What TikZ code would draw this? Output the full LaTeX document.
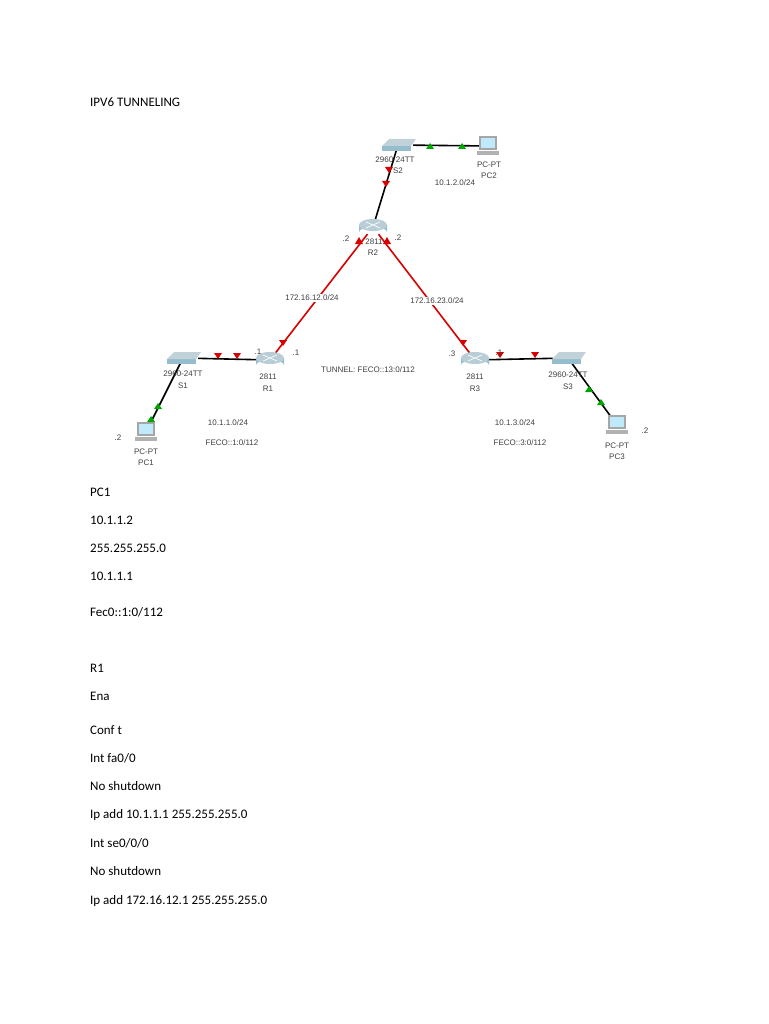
\documentclass[tikz,border=0pt]{standalone}
\usepackage{fontspec}
\setmainfont{Carlito}
\newfontfamily\diag{Liberation Sans}
\begin{document}
\begin{tikzpicture}[x=1pt,y=-1pt,
  body/.style={anchor=west,font=\fontsize{13}{15}\selectfont,inner sep=0},
  lbl/.style={font=\diag\fontsize{8}{9}\selectfont,text=black!75,inner sep=0},
  router/.style={draw=none,minimum width=26,minimum height=14,inner sep=0},
  switchn/.style={inner sep=0,minimum width=30,minimum height=10},
  pcn/.style={inner sep=0,minimum width=18,minimum height=18},
  serial/.style={red!85!black,line width=1.6},
  eth/.style={black,line width=1.6},
  rmark/.style={fill=red!85!black,draw=none},
  gmark/.style={fill=green!65!black,draw=none}]
\useasboundingbox (0,0) rectangle (768,1024);
\fill[white] (0,0) rectangle (768,1024);
\node[body] (title) at (90,102) {IPV6 TUNNELING};
% devices (shapes)
\newcommand{\routerpic}[2]{%
  \fill[cyan!45!gray!70] (#1-14,#2-2) -- (#1-14,#2+5) arc[start angle=180,end angle=360,x radius=14,y radius=5] -- (#1+14,#2-2) -- cycle;
  \fill[cyan!30!gray!50] (#1,#2-2) ellipse[x radius=14,y radius=6];
  \draw[white,line width=0.7] (#1-7,#2-5) -- (#1+7,#2+1) (#1-7,#2+1) -- (#1+7,#2-5);}
\newcommand{\switchpic}[2]{%
  \fill[cyan!40!gray!70] (#1-16,#2+1) -- (#1+13,#2+1) -- (#1+13,#2+6) -- (#1-16,#2+6) -- cycle;
  \fill[cyan!25!gray!45] (#1-16,#2+1) -- (#1-9,#2-6) -- (#1+18,#2-6) -- (#1+13,#2+1) -- cycle;}
\newcommand{\pcpic}[2]{%
  \fill[gray!70] (#1-9,#2-10) rectangle (#1+9,#2+4);
  \fill[cyan!25] (#1-7,#2-8) rectangle (#1+7,#2+2);
  \fill[gray!60] (#1-11,#2+5) rectangle (#1+11,#2+9);}
\node[router] (R1) at (270,360) {};
\node[router] (R2) at (373,227) {};
\node[router] (R3) at (475,360) {};
\node[switchn] (S1) at (183,358) {};
\node[switchn] (S2) at (398,145) {};
\node[switchn] (S3) at (568,358) {};
\node[pcn] (PC1) at (146,432) {};
\node[pcn] (PC2) at (488,146) {};
\node[pcn] (PC3) at (617,425) {};
% links
\draw[serial] (R1) -- (R2);
\draw[serial] (R2) -- (R3);
\draw[eth] (S1) -- (R1);
\draw[eth] (R3) -- (S3);
\draw[eth] (S2) -- (R2);
\draw[eth] (S2) -- (PC2);
\draw[eth] (S1) -- (PC1);
\draw[eth] (S3) -- (PC3);
\routerpic{270}{360}\routerpic{373}{227}\routerpic{475}{360}
\switchpic{183}{358}\switchpic{398}{145}\switchpic{568}{358}
\pcpic{146}{432}\pcpic{488}{146}\pcpic{617}{425}
% link markers
\foreach \x/\y in {218/356,237/356,283/343,386/184,389/170,500/355,535/355,463/343}{\fill[rmark] (\x-4,\y-3) -- (\x+4,\y-3) -- (\x,\y+3) -- cycle;}
\foreach \x/\y in {359/240,387/240}{\fill[rmark] (\x-4,\y+4) -- (\x+4,\y+4) -- (\x,\y-3) -- cycle;}
\foreach \x/\y in {430/146,462/146,158/406,151/419,589/389,601/402}{\fill[gmark] (\x-4,\y+3) -- (\x+4,\y+3) -- (\x,\y-3) -- cycle;}
% labels
\node[lbl] (lS2) at (395,160) {2960-24TT}; \node[lbl] (nS2) at (398,171) {S2};
\node[lbl] (lPC2) at (489,165) {PC-PT}; \node[lbl] (nPC2) at (489,176) {PC2};
\node[lbl] (n12) at (455,183) {10.1.2.0/24};
\node[lbl] (lR2) at (374,242) {2811}; \node[lbl] (nR2) at (373,253) {R2};
\node[lbl] (a1) at (346,239) {.2}; \node[lbl] (a2) at (398,238) {.2};
\node[lbl,fill=white,inner sep=1] (n1612) at (312,298) {172.16.12.0/24};
\node[lbl,fill=white,inner sep=1] (n1623) at (437,301) {172.16.23.0/24};
\node[lbl] (lS1) at (183,374) {2960-24TT}; \node[lbl] (nS1) at (183,386) {S1};
\node[lbl] (lR1) at (268,377) {2811}; \node[lbl] (nR1) at (268,389) {R1};
\node[lbl] (a3) at (258,352) {.1}; \node[lbl] (a4) at (296,353) {.1};
\node[lbl] (tun) at (368,370) {TUNNEL: FECO::13:0/112};
\node[lbl] (lR3) at (475,377) {2811}; \node[lbl] (nR3) at (475,389) {R3};
\node[lbl] (a5) at (452,354) {.3}; \node[lbl] (a6) at (499,353) {.1};
\node[lbl] (lS3) at (568,375) {2960-24TT}; \node[lbl] (nS3) at (568,387) {S3};
\node[lbl] (lPC1) at (146,452) {PC-PT}; \node[lbl] (nPC1) at (146,463) {PC1};
\node[lbl] (a7) at (118,438) {.2};
\node[lbl] (n11) at (228,423) {10.1.1.0/24}; \node[lbl] (f1) at (232,443) {FECO::1:0/112};
\node[lbl] (n13) at (515,423) {10.1.3.0/24}; \node[lbl] (f3) at (520,443) {FECO::3:0/112};
\node[lbl] (lPC3) at (617,446) {PC-PT}; \node[lbl] (nPC3) at (617,457) {PC3};
\node[lbl] (a8) at (645,431) {.2};
% body text
\node[body] (t1) at (90,492) {PC1};
\node[body] (t2) at (90,520) {10.1.1.2};
\node[body] (t3) at (90,548) {255.255.255.0};
\node[body] (t4) at (90,576) {10.1.1.1};
\node[body] (t5) at (90,612) {Fec0::1:0/112};
\node[body] (t6) at (90,668) {R1};
\node[body] (t7) at (90,696) {Ena};
\node[body] (t8) at (90,730) {Conf t};
\node[body] (t9) at (90,758) {Int fa0/0};
\node[body] (t10) at (90,786) {No shutdown};
\node[body] (t11) at (90,815) {Ip add 10.1.1.1 255.255.255.0};
\node[body] (t12) at (90,843) {Int se0/0/0};
\node[body] (t13) at (90,871) {No shutdown};
\node[body] (t14) at (90,901) {Ip add 172.16.12.1 255.255.255.0};
\end{tikzpicture}
\end{document}
